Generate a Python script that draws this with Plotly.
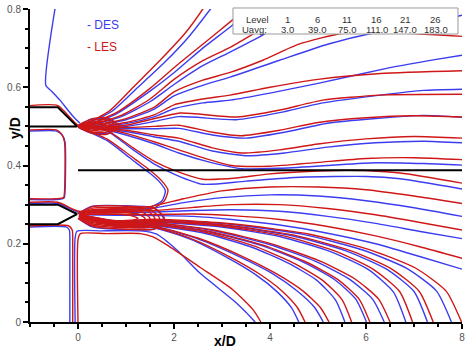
import plotly.graph_objects as go

BLUE = "#3c3cf0"
RED = "#cf1717"

# ---------------- nozzle geometry (black) ----------------
UPPER_LIP_X = [-1, -0.42, -0.02, -1]
UPPER_LIP_Y = [0.549, 0.549, 0.5, 0.5]
LOWER_LIP_X = [-1, -0.42, -0.02, -0.42, -1]
LOWER_LIP_Y = [0.3, 0.3, 0.276, 0.25, 0.25]
CENTER_X = [0, 8]
CENTER_Y = [0.388, 0.388]

# ---------------- DES contours (blue) ----------------
DES_UPPER_X = [
    [0.0, 0.15, 0.7, 1.25, 1.8, 2.3, 2.76, 2.82],
    [0.0, 0.2, 0.8, 1.5, 2.0, 2.6, 3.17, 3.7],
    [0.0, 0.25, 0.9, 1.5, 2.0, 2.6, 3.17, 3.8, 4.5, 5.2],
    [0.0, 0.3, 1.0, 1.6, 2.0, 2.6, 3.17, 4.2, 5.2, 6.2, 7.2, 8.0],
    [0.0, 0.35, 1.0, 1.6, 2.0, 2.6, 3.17, 4.0, 5.0, 6.5, 7.4, 8.0],
    [0.0, 0.4, 1.0, 1.6, 2.1, 3.3, 4.2, 5.1, 6.3, 7.2, 8.0],
    [0.0, 0.45, 1.0, 1.6, 2.1, 2.8, 3.5, 4.3, 5.2, 6.2, 7.2, 8.0],
    [0.0, 0.5, 1.0, 1.6, 2.1, 2.8, 3.5, 4.3, 5.2, 6.2, 7.2, 8.0],
    [0.0, 0.55, 1.0, 1.6, 2.1, 2.7, 3.4, 4.2, 5.2, 6.2, 7.2, 8.0],
    [0.0, 0.6, 1.15, 1.6, 2.06, 2.6, 3.5, 4.63, 6.0, 6.71, 8.0],
    [0.1, 0.6, 0.94, 1.2, 1.5, 1.72, 1.82, 1.75, 1.5, 1.1, 0.5],
    [-0.48, -0.67, -0.55, -0.375, -0.2, -0.06, 0.04],
    [0.0, 0.25, 0.6, 0.85, 0.6, 0.25, 0.0],
]
DES_UPPER_Y = [
    [0.502, 0.506, 0.538, 0.6, 0.663, 0.728, 0.8, 0.81],
    [0.502, 0.504, 0.532, 0.59, 0.637, 0.7, 0.754, 0.81],
    [0.501, 0.503, 0.525, 0.563, 0.607, 0.655, 0.69, 0.73, 0.78, 0.81],
    [0.501, 0.501, 0.517, 0.545, 0.578, 0.605, 0.626, 0.669, 0.71, 0.74, 0.76, 0.784],
    [0.5, 0.499, 0.507, 0.525, 0.545, 0.56, 0.567, 0.585, 0.61, 0.65, 0.67, 0.682],
    [0.5, 0.497, 0.5, 0.513, 0.525, 0.517, 0.535, 0.56, 0.58, 0.592, 0.595],
    [0.5, 0.496, 0.494, 0.494, 0.495, 0.478, 0.47, 0.485, 0.508, 0.52, 0.528, 0.523],
    [0.499, 0.494, 0.487, 0.473, 0.462, 0.437, 0.425, 0.432, 0.447, 0.458, 0.462, 0.458],
    [0.499, 0.492, 0.478, 0.455, 0.432, 0.41, 0.392, 0.393, 0.4, 0.407, 0.405, 0.401],
    [0.498, 0.488, 0.44, 0.403, 0.375, 0.352, 0.36, 0.37, 0.372, 0.366, 0.34],
    [0.493, 0.464, 0.433, 0.408, 0.38, 0.355, 0.335, 0.31, 0.293, 0.285, 0.283],
    [0.8, 0.605, 0.59, 0.567, 0.54, 0.52, 0.508],
    [0.5, 0.517, 0.52, 0.5, 0.482, 0.484, 0.5],
]
DES_MID_X = [
    [-1, -0.42, 0.02, 0.8, 1.5, 2.2, 3.0, 4.0, 5.0, 6.0, 7.0, 8.0],
    [0.1, 0.8, 1.6, 2.4, 3.2, 4.2, 5.2, 6.2, 7.1, 8.0],
    [0.1, 0.8, 1.6, 2.4, 3.2, 4.2, 5.2, 6.2, 7.1, 8.0],
    [-1, -0.45, -0.33, -0.27, -0.27, -0.29, -0.45, -1],
    [0.0, 0.3, 1.0, 1.6, 1.78, 1.6, 1.0, 0.3, 0.0],
]
DES_MID_Y = [
    [0.303, 0.303, 0.281, 0.288, 0.29, 0.305, 0.318, 0.325, 0.322, 0.31, 0.292, 0.27],
    [0.279, 0.28, 0.281, 0.285, 0.287, 0.283, 0.27, 0.252, 0.232, 0.213],
    [0.274, 0.273, 0.272, 0.27, 0.262, 0.248, 0.227, 0.2, 0.168, 0.135],
    [0.488, 0.488, 0.478, 0.46, 0.335, 0.317, 0.313, 0.313],
    [0.277, 0.296, 0.297, 0.291, 0.265, 0.238, 0.236, 0.243, 0.265],
]
DES_LOWER_X = [
    [-1, -0.25, -0.18, -0.17, -0.17],
    [-0.06, -0.06, -0.02, 0.5, 1.3, 1.63, 2.06, 2.54, 3.23, 3.5, 3.69],
    [0.02, 0.8, 1.6, 2.35, 3.1, 3.7, 4.15, 4.45, 4.6],
    [0.02, 0.8, 1.6, 2.48, 3.36, 4.06, 4.58, 4.93, 5.11],
    [0.02, 0.8, 1.6, 2.59, 3.58, 4.37, 4.97, 5.36, 5.56],
    [0.02, 0.8, 1.6, 2.70, 3.81, 4.69, 5.35, 5.79, 6.01],
    [0.02, 0.8, 1.6, 2.80, 3.99, 4.95, 5.66, 6.14, 6.38],
    [0.02, 0.8, 1.6, 2.91, 4.22, 5.26, 6.05, 6.57, 6.83],
    [0.02, 0.8, 1.6, 3.02, 4.44, 5.58, 6.43, 7.0, 7.28],
    [0.02, 0.8, 1.6, 3.15, 4.69, 5.93, 6.85, 7.47, 7.78],
]
DES_LOWER_Y = [
    [0.243, 0.243, 0.235, 0.2, 0.0],
    [0.0, 0.215, 0.232, 0.233, 0.233, 0.225, 0.184, 0.125, 0.056, 0.025, 0.0],
    [0.268, 0.244, 0.240, 0.211, 0.165, 0.121, 0.077, 0.036, 0.0],
    [0.269, 0.246, 0.243, 0.213, 0.167, 0.123, 0.078, 0.037, 0.0],
    [0.270, 0.248, 0.246, 0.228, 0.193, 0.151, 0.107, 0.057, 0.0],
    [0.271, 0.250, 0.249, 0.231, 0.196, 0.153, 0.108, 0.058, 0.0],
    [0.272, 0.252, 0.252, 0.234, 0.198, 0.155, 0.109, 0.058, 0.0],
    [0.273, 0.254, 0.255, 0.244, 0.218, 0.180, 0.134, 0.077, 0.0],
    [0.274, 0.256, 0.258, 0.247, 0.221, 0.182, 0.135, 0.078, 0.0],
    [0.275, 0.258, 0.261, 0.250, 0.224, 0.184, 0.137, 0.079, 0.0],
]

# ---------------- LES contours (red) ----------------
LES_UPPER_X = [
    [-1, -0.42, 0.0, 0.15, 0.67, 1.19, 1.71, 2.23, 2.6, 2.65],
    [0.0, 0.2, 0.8, 1.5, 2.0, 2.6, 3.17, 3.6],
    [0.0, 0.25, 0.9, 1.5, 2.0, 2.6, 3.17, 3.7, 4.4, 5.0],
    [0.0, 0.3, 1.0, 1.6, 2.0, 2.6, 3.17, 3.85, 4.6, 5.52, 6.5, 8.0],
    [0.0, 0.35, 1.0, 1.6, 2.0, 2.6, 3.17, 4.0, 5.0, 6.3, 8.0],
    [0.0, 0.4, 1.0, 1.6, 2.125, 3.31, 4.21, 5.1, 6.29, 8.0],
    [0.0, 0.45, 1.0, 1.6, 2.1, 2.8, 3.4, 4.2, 5.0, 6.0, 7.0, 8.0],
    [0.0, 0.5, 1.0, 1.6, 2.1, 2.8, 3.4, 4.2, 5.0, 6.0, 7.0, 8.0],
    [0.0, 0.55, 1.0, 1.6, 2.1, 2.6, 3.2, 4.0, 5.0, 6.0, 7.0, 8.0],
    [0.0, 0.6, 1.15, 1.6, 2.06, 2.6, 3.3, 3.94, 5.0, 5.67, 6.71, 8.0],
    [0.1, 0.6, 0.94, 1.2, 1.5, 1.75, 1.875, 1.8, 1.56, 1.1, 0.5],
    [0.0, 0.3, 0.6, 0.88, 0.6, 0.3, 0.0],
    [0.02, 0.3, 0.58, 0.8, 0.58, 0.3, 0.02],
    [0.04, 0.3, 0.55, 0.72, 0.55, 0.3, 0.04],
    [0.06, 0.3, 0.5, 0.62, 0.5, 0.3, 0.06],
]
LES_UPPER_Y = [
    [0.553, 0.553, 0.503, 0.506, 0.541, 0.605, 0.669, 0.738, 0.8, 0.81],
    [0.502, 0.505, 0.535, 0.597, 0.65, 0.71, 0.767, 0.81],
    [0.501, 0.504, 0.528, 0.57, 0.62, 0.668, 0.702, 0.74, 0.79, 0.81],
    [0.501, 0.502, 0.52, 0.55, 0.588, 0.618, 0.638, 0.669, 0.71, 0.738, 0.74, 0.73],
    [0.5, 0.5, 0.51, 0.53, 0.555, 0.57, 0.58, 0.6, 0.62, 0.635, 0.642],
    [0.5, 0.498, 0.503, 0.52, 0.534, 0.524, 0.542, 0.567, 0.58, 0.582],
    [0.5, 0.497, 0.497, 0.5, 0.503, 0.485, 0.476, 0.49, 0.51, 0.522, 0.527, 0.524],
    [0.499, 0.495, 0.49, 0.478, 0.47, 0.445, 0.432, 0.44, 0.455, 0.468, 0.474, 0.47],
    [0.499, 0.494, 0.482, 0.46, 0.44, 0.42, 0.4, 0.398, 0.408, 0.418, 0.42, 0.415],
    [0.5, 0.49, 0.445, 0.41, 0.385, 0.365, 0.368, 0.378, 0.386, 0.388, 0.381, 0.355],
    [0.495, 0.468, 0.439, 0.415, 0.388, 0.36, 0.337, 0.31, 0.29, 0.282, 0.28],
    [0.5, 0.52, 0.522, 0.5, 0.48, 0.482, 0.5],
    [0.5, 0.515, 0.517, 0.5, 0.485, 0.486, 0.5],
    [0.5, 0.511, 0.512, 0.5, 0.489, 0.49, 0.5],
    [0.5, 0.507, 0.507, 0.5, 0.493, 0.493, 0.5],
]
LES_MID_X = [
    [-1, -0.42, 0.02, 0.8, 1.5, 2.2, 3.0, 4.0, 5.0, 6.0, 7.0, 8.0],
    [0.1, 0.8, 1.6, 2.4, 3.2, 4.2, 5.2, 6.2, 7.1, 8.0],
    [0.1, 0.8, 1.6, 2.4, 3.2, 4.2, 5.2, 6.2, 7.1, 8.0],
    [-1, -0.45, -0.34, -0.28, -0.28, -0.3, -0.45, -1],
    [0.0, 0.3, 1.0, 1.6, 1.8, 1.6, 1.0, 0.3, 0.0],
    [0.02, 0.3, 1.0, 1.5, 1.7, 1.5, 1.0, 0.3, 0.02],
    [0.04, 0.3, 1.0, 1.45, 1.6, 1.45, 1.0, 0.3, 0.04],
    [0.06, 0.3, 1.0, 1.35, 1.5, 1.35, 1.0, 0.3, 0.06],
    [0.08, 0.3, 0.9, 1.25, 1.4, 1.25, 0.9, 0.3, 0.08],
    [0.1, 0.3, 0.8, 1.1, 1.25, 1.1, 0.8, 0.3, 0.1],
]
LES_MID_Y = [
    [0.306, 0.306, 0.283, 0.29, 0.295, 0.315, 0.335, 0.345, 0.345, 0.338, 0.322, 0.303],
    [0.28, 0.283, 0.285, 0.293, 0.3, 0.3, 0.29, 0.274, 0.255, 0.235],
    [0.275, 0.275, 0.275, 0.276, 0.272, 0.262, 0.244, 0.22, 0.193, 0.163],
    [0.491, 0.491, 0.48, 0.46, 0.335, 0.318, 0.315, 0.315],
    [0.277, 0.295, 0.296, 0.29, 0.265, 0.238, 0.237, 0.245, 0.265],
    [0.276, 0.291, 0.292, 0.287, 0.265, 0.242, 0.241, 0.248, 0.266],
    [0.275, 0.287, 0.288, 0.284, 0.265, 0.246, 0.245, 0.251, 0.267],
    [0.275, 0.283, 0.284, 0.28, 0.265, 0.25, 0.249, 0.254, 0.268],
    [0.274, 0.279, 0.28, 0.276, 0.265, 0.254, 0.253, 0.257, 0.269],
    [0.273, 0.276, 0.276, 0.272, 0.265, 0.258, 0.257, 0.26, 0.27],
]
LES_LOWER_X = [
    [-1, -0.2, -0.12, -0.11, -0.11],
    [0.0, 0.0, 0.05, 0.6, 1.3, 1.55, 1.85, 2.54, 3.23, 3.65, 3.81],
    [0.02, 0.8, 1.6, 2.38, 3.17, 3.79, 4.26, 4.57, 4.73],
    [0.02, 0.8, 1.6, 2.51, 3.42, 4.14, 4.69, 5.05, 5.23],
    [0.02, 0.8, 1.6, 2.63, 3.65, 4.47, 5.09, 5.5, 5.7],
    [0.02, 0.8, 1.6, 2.72, 3.84, 4.74, 5.41, 5.86, 6.08],
    [0.02, 0.8, 1.6, 2.83, 4.05, 5.03, 5.77, 6.26, 6.5],
    [0.02, 0.8, 1.6, 2.94, 4.29, 5.36, 6.16, 6.70, 6.97],
    [0.02, 0.8, 1.6, 3.05, 4.5, 5.66, 6.53, 7.11, 7.4],
    [0.02, 0.8, 1.6, 3.2, 4.8, 6.07, 7.03, 7.67, 7.99],
]
LES_LOWER_Y = [
    [0.246, 0.246, 0.235, 0.2, 0.0],
    [0.0, 0.21, 0.226, 0.226, 0.226, 0.218, 0.197, 0.14, 0.082, 0.031, 0.0],
    [0.268, 0.245, 0.2415, 0.212, 0.166, 0.122, 0.078, 0.037, 0.0],
    [0.269, 0.247, 0.2445, 0.214, 0.168, 0.123, 0.079, 0.037, 0.0],
    [0.270, 0.249, 0.2475, 0.230, 0.195, 0.152, 0.107, 0.057, 0.0],
    [0.271, 0.251, 0.2505, 0.232, 0.197, 0.154, 0.109, 0.058, 0.0],
    [0.272, 0.253, 0.2535, 0.235, 0.199, 0.156, 0.110, 0.059, 0.0],
    [0.273, 0.255, 0.2565, 0.246, 0.220, 0.181, 0.134, 0.078, 0.0],
    [0.274, 0.257, 0.2595, 0.248, 0.222, 0.183, 0.136, 0.078, 0.0],
    [0.275, 0.259, 0.2625, 0.251, 0.225, 0.185, 0.138, 0.079, 0.0],
]

# ---------------- legend table ----------------
LEVELS = ["1", "6", "11", "16", "21", "26"]
UAVG = ["3.0", "39.0", "75.0", "111.0", "147.0", "183.0"]
COL_X = [0.5972, 0.6644, 0.7338, 0.8021, 0.8692, 0.9387]

X_TICKS = [0, 2, 4, 6, 8]
Y_TICKS = [0, 0.2, 0.4, 0.6, 0.8]
Y_TICKTEXT = ["0", "0.2", "0.4", "0.6", "0.8"]

fig = go.Figure()


def add_group(xs, ys, color):
    for x, y in zip(xs, ys):
        fig.add_trace(go.Scatter(
            x=x, y=y, mode="lines",
            line=dict(color=color, width=1.4, shape="spline", smoothing=0.6),
            hoverinfo="skip", showlegend=False))


add_group(DES_UPPER_X, DES_UPPER_Y, BLUE)
add_group(DES_MID_X, DES_MID_Y, BLUE)
add_group(DES_LOWER_X, DES_LOWER_Y, BLUE)
add_group(LES_UPPER_X, LES_UPPER_Y, RED)
add_group(LES_MID_X, LES_MID_Y, RED)
add_group(LES_LOWER_X, LES_LOWER_Y, RED)

for gx, gy in [(UPPER_LIP_X, UPPER_LIP_Y), (LOWER_LIP_X, LOWER_LIP_Y), (CENTER_X, CENTER_Y)]:
    fig.add_trace(go.Scatter(x=gx, y=gy, mode="lines",
                             line=dict(color="black", width=2),
                             hoverinfo="skip", showlegend=False))

# level table box
fig.add_shape(type="rect", xref="paper", yref="paper",
              x0=0.4699, x1=0.9907, y0=0.9201, y1=1.0032,
              fillcolor="white", line=dict(color="#9a9a9a", width=1), layer="above")

lfont = "Liberation Sans, Arial, sans-serif"
tfont = dict(family=lfont, size=9.5, color="#333")


def note(x, y, text, font, **kw):
    fig.add_annotation(x=x, y=y, xref="paper", yref="paper", text=text,
                       showarrow=False, font=font, xanchor=kw.pop("xanchor", "center"),
                       yanchor="middle", **kw)


note(0.5255, 0.968, "Level", tfont)
note(0.5208, 0.936, "Uavg:", tfont)
for cx, lv, ua in zip(COL_X, LEVELS, UAVG):
    note(cx, 0.968, lv, tfont)
    note(cx, 0.936, ua, tfont)

note(0.1273, 0.9489, "- DES", dict(family=lfont, size=12, color=BLUE), xanchor="left")
note(0.1273, 0.8786, "- LES", dict(family=lfont, size=12, color=RED), xanchor="left")

note(0.4514, -0.0623, "<b>x/D</b>", dict(family=lfont, size=14, color="black"))
note(-0.0347, 0.6198, "<b>y/D</b>", dict(family=lfont, size=14, color="black"), textangle=-90)

axis_common = dict(showline=True, linecolor="black", linewidth=2, ticks="outside",
                   tickcolor="black", tickwidth=1.5, ticklen=5, showgrid=False,
                   zeroline=False, automargin=False,
                   tickfont=dict(family=lfont, size=10, color="#555"))

fig.update_xaxes(range=[-1, 8], tickvals=X_TICKS,
                 minor=dict(dtick=0.5, ticks="outside", ticklen=3, tickcolor="black", showgrid=False),
                 **axis_common)
fig.update_yaxes(range=[0, 0.8], tickvals=Y_TICKS, ticktext=Y_TICKTEXT,
                 minor=dict(dtick=0.05, ticks="outside", ticklen=3, tickcolor="black", showgrid=False),
                 **axis_common)

fig.update_layout(width=474, height=353, margin=dict(l=30, r=12, t=9, b=31, autoexpand=False),
                  plot_bgcolor="white", paper_bgcolor="white")

fig.write_html("out.html")
